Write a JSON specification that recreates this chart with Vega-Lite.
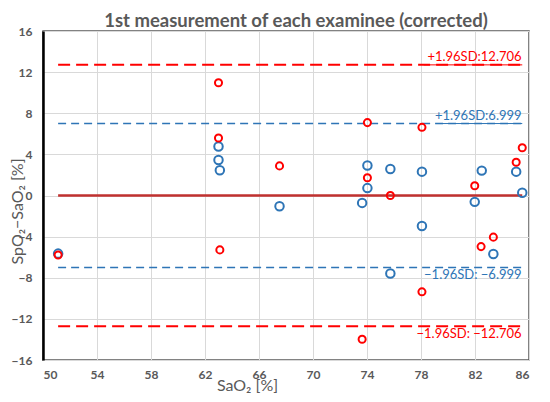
{
  "$schema": "https://vega.github.io/schema/vega-lite/v6.json",
  "width": 486,
  "height": 329,
  "autosize": {"type": "none"},
  "padding": {"left": 43, "top": 31, "right": 21, "bottom": 42},
  "background": "white",
  "title": {
    "text": "1st measurement of each examinee (corrected)",
    "font": "Lato",
    "fontSize": 18.5,
    "fontWeight": "bold",
    "color": "#595959",
    "offset": -5,
    "dx": 10
  },
  "config": {
    "view": {"stroke": "#595959", "strokeWidth": 1.5},
    "font": "Lato",
    "axis": {
      "grid": true,
      "gridColor": "#d9d9d9",
      "gridWidth": 1,
      "ticks": false,
      "labelFont": "Lato",
      "labelFontSize": 12,
      "labelFontWeight": "bold",
      "labelColor": "#595959",
      "titleFont": "Lato",
      "titleFontSize": 16,
      "titleFontWeight": "normal",
      "titleColor": "#595959"
    }
  },
  "datasets": {
    "points": [
      {"sao2": 51.12, "diff": -5.65, "series": "blue"},
      {"sao2": 63.0, "diff": 4.77, "series": "blue"},
      {"sao2": 63.0, "diff": 3.46, "series": "blue"},
      {"sao2": 63.1, "diff": 2.45, "series": "blue"},
      {"sao2": 67.52, "diff": -1.05, "series": "blue"},
      {"sao2": 73.64, "diff": -0.72, "series": "blue"},
      {"sao2": 74.03, "diff": 2.91, "series": "blue"},
      {"sao2": 74.03, "diff": 0.72, "series": "blue"},
      {"sao2": 75.73, "diff": 2.58, "series": "blue"},
      {"sao2": 75.73, "diff": -7.58, "series": "blue"},
      {"sao2": 78.07, "diff": 2.32, "series": "blue"},
      {"sao2": 78.07, "diff": -2.97, "series": "blue"},
      {"sao2": 81.98, "diff": -0.62, "series": "blue"},
      {"sao2": 82.5, "diff": 2.42, "series": "blue"},
      {"sao2": 83.36, "diff": -5.69, "series": "blue"},
      {"sao2": 85.05, "diff": 2.32, "series": "blue"},
      {"sao2": 85.5, "diff": 0.26, "series": "blue"},
      {"sao2": 51.12, "diff": -5.78, "series": "red"},
      {"sao2": 63.0, "diff": 10.96, "series": "red"},
      {"sao2": 63.0, "diff": 5.6, "series": "red"},
      {"sao2": 63.1, "diff": -5.29, "series": "red"},
      {"sao2": 67.52, "diff": 2.88, "series": "red"},
      {"sao2": 73.64, "diff": -13.98, "series": "red"},
      {"sao2": 74.03, "diff": 7.09, "series": "red"},
      {"sao2": 74.03, "diff": 1.73, "series": "red"},
      {"sao2": 75.73, "diff": 0.0, "series": "red"},
      {"sao2": 78.07, "diff": 6.63, "series": "red"},
      {"sao2": 78.07, "diff": -9.37, "series": "red"},
      {"sao2": 81.98, "diff": 0.95, "series": "red"},
      {"sao2": 82.45, "diff": -4.97, "series": "red"},
      {"sao2": 83.36, "diff": -4.05, "series": "red"},
      {"sao2": 85.05, "diff": 3.24, "series": "red"},
      {"sao2": 85.5, "diff": 4.64, "series": "red"}
    ],
    "limits": [
      {"group": "red", "y": 12.706, "start": 51.12, "end": 85.5, "label": "+1.96SD:12.706", "side": "above", "ulStart": 78.2},
      {"group": "blue", "y": 6.999, "start": 51.12, "end": 85.5, "label": "+1.96SD:6.999", "side": "above", "ulStart": 79.1},
      {"group": "blue", "y": -6.999, "start": 51.12, "end": 85.5, "label": "−1.96SD: −6.999", "side": "below"},
      {"group": "red", "y": -12.706, "start": 51.12, "end": 85.5, "label": "−1.96SD: −12.706", "side": "below"}
    ]
  },
  "encoding": {
    "x": {
      "type": "quantitative",
      "scale": {"domain": [50, 86], "nice": false},
      "axis": {
        "values": [50, 54, 58, 62, 66, 70, 74, 78, 82, 86],
        "domain": false,
        "labelPadding": 9,
        "title": "SaO₂ [%]",
        "titleX": 204,
        "titleY": 30,
        "titleBaseline": "alphabetic"
      }
    },
    "y": {
      "type": "quantitative",
      "scale": {"domain": [-16, 16], "nice": false},
      "axis": {
        "values": [-16, -12, -8, -4, 0, 4, 8, 12, 16],
        "domain": true,
        "domainColor": "black",
        "domainWidth": 2.5,
        "labelPadding": 11,
        "title": "SpO₂−SaO₂ [%]",
        "titleX": -26,
        "titleY": 180,
        "titleAlign": "center",
        "titleBaseline": "middle"
      }
    }
  },
  "layer": [
    {
      "mark": {"type": "rule", "color": "black", "strokeWidth": 2},
      "encoding": {"y": {"datum": 0}}
    },
    {
      "data": {"values": [{"y": 0, "start": 51.12, "end": 85.5}]},
      "mark": {"type": "rule", "color": "#c0312f", "strokeWidth": 2.5},
      "encoding": {
        "x": {"field": "start"},
        "x2": {"field": "end"},
        "y": {"field": "y"}
      }
    },
    {
      "data": {"name": "limits"},
      "mark": {"type": "rule"},
      "encoding": {
        "x": {"field": "start"},
        "x2": {"field": "end"},
        "y": {"field": "y"},
        "color": {
          "field": "group",
          "type": "nominal",
          "scale": {"domain": ["red", "blue"], "range": ["#ff0000", "#2e75b6"]},
          "legend": null
        },
        "strokeDash": {
          "field": "group",
          "type": "nominal",
          "scale": {"domain": ["red", "blue"], "range": [[12, 6], [8, 5]]},
          "legend": null
        },
        "strokeWidth": {
          "field": "group",
          "type": "nominal",
          "scale": {"domain": ["red", "blue"], "range": [2, 1.5]},
          "legend": null
        }
      }
    },
    {
      "data": {"name": "limits"},
      "transform": [{"filter": "datum.side === 'above'"}],
      "mark": {"type": "rule", "strokeWidth": 1},
      "encoding": {
        "x": {"field": "ulStart"},
        "x2": {"field": "end"},
        "y": {"field": "y"},
        "color": {
          "field": "group",
          "type": "nominal",
          "scale": {"domain": ["red", "blue"], "range": ["#ff0000", "#2e75b6"]},
          "legend": null
        }
      }
    },
    {
      "data": {"name": "points"},
      "mark": {"type": "point", "shape": "circle", "filled": false, "strokeWidth": 2, "opacity": 1},
      "encoding": {
        "x": {"field": "sao2"},
        "y": {"field": "diff"},
        "color": {
          "field": "series",
          "type": "nominal",
          "scale": {"domain": ["red", "blue"], "range": ["#ff0000", "#2e75b6"]},
          "legend": null
        },
        "size": {
          "field": "series",
          "type": "nominal",
          "scale": {"domain": ["red", "blue"], "range": [50, 72]},
          "legend": null
        }
      }
    },
    {
      "data": {"name": "limits"},
      "transform": [{"filter": "datum.side === 'above'"}],
      "mark": {"type": "text", "align": "right", "baseline": "bottom", "dy": -1, "fontSize": 13},
      "encoding": {
        "x": {"datum": 85.45},
        "y": {"field": "y"},
        "text": {"field": "label"},
        "color": {
          "field": "group",
          "type": "nominal",
          "scale": {"domain": ["red", "blue"], "range": ["#ff0000", "#2e75b6"]},
          "legend": null
        }
      }
    },
    {
      "data": {"name": "limits"},
      "transform": [{"filter": "datum.side === 'below'"}],
      "mark": {"type": "text", "align": "right", "baseline": "top", "dy": 2, "fontSize": 13},
      "encoding": {
        "x": {"datum": 85.45},
        "y": {"field": "y"},
        "text": {"field": "label"},
        "color": {
          "field": "group",
          "type": "nominal",
          "scale": {"domain": ["red", "blue"], "range": ["#ff0000", "#2e75b6"]},
          "legend": null
        }
      }
    }
  ]
}
